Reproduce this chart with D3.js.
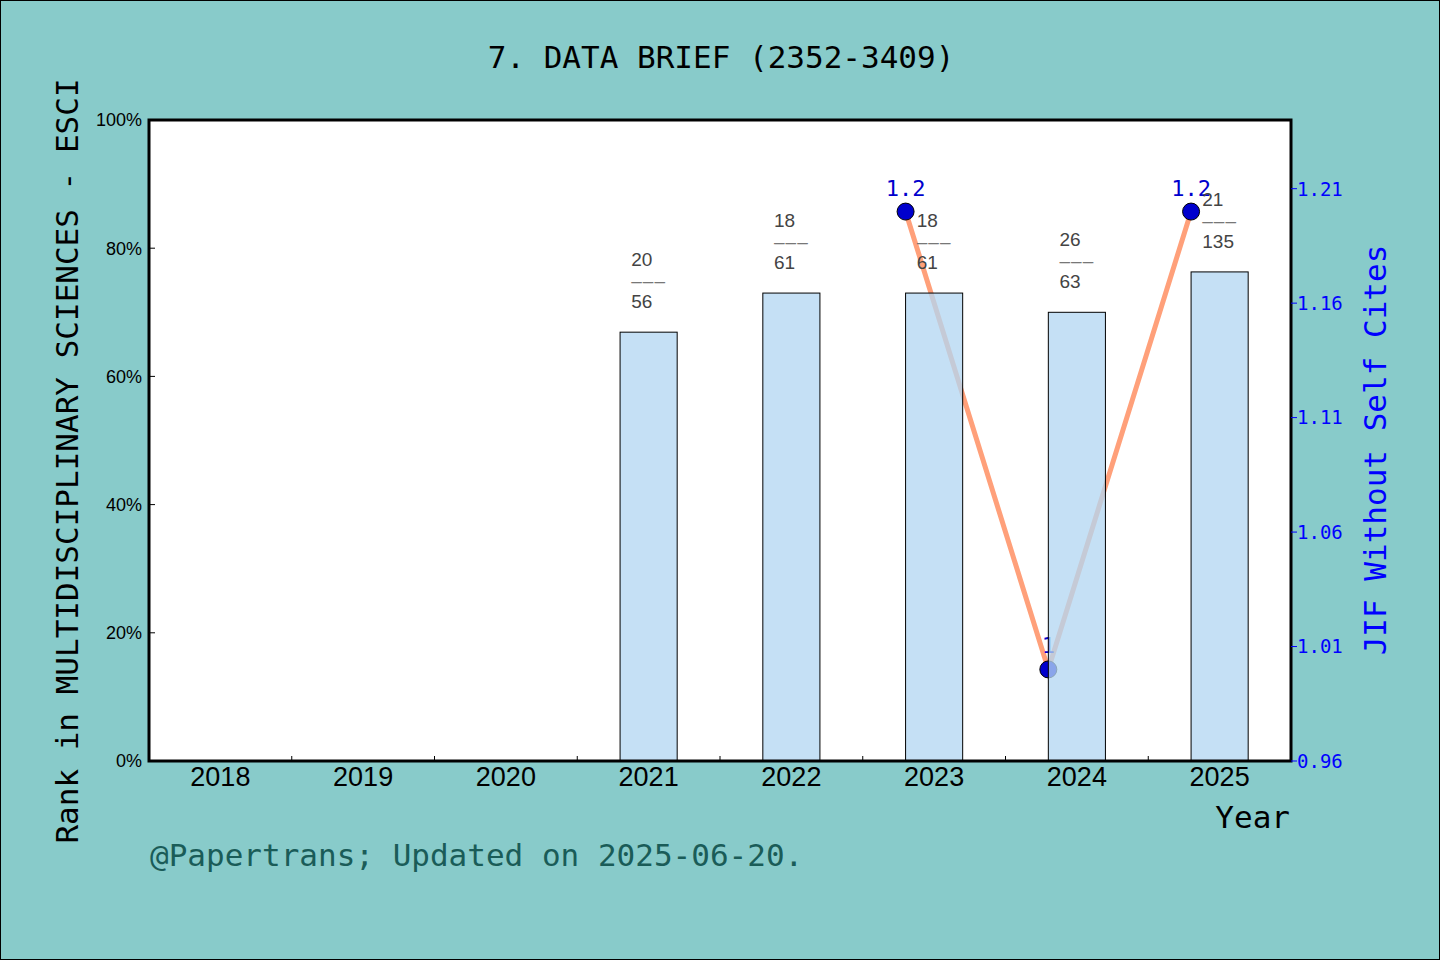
<!DOCTYPE html>
<html lang="en">
<head>
  <meta charset="UTF-8">
  <title>7. DATA BRIEF (2352-3409)</title>
  <script src="https://d3js.org/d3.v7.min.js"></script>
  <style>
    body { margin: 0; padding: 0; background: #88cbca; }
    svg { display: block; }
    .mono { font-family: "DejaVu Sans Mono", monospace; }
    .sans { font-family: "Liberation Sans", Arial, sans-serif; }
  </style>
</head>
<body>
  <div id="chart"></div>

  <script>
    // chart data
    const years = ["2018", "2019", "2020", "2021", "2022", "2023", "2024", "2025"];
    const rankPct = [null, null, null, 66.9, 73.0, 73.0, 70.0, 76.3];
    const rankTop = [null, null, null, "20", "18", "18", "26", "21"];
    const rankTotal = [null, null, null, "56", "61", "61", "63", "135"];
    const jifYears = ["2023", "2024", "2025"];
    const jifValues = [1.2, 1.0, 1.2];
    const pctTicks = [0, 20, 40, 60, 80, 100];
    const jifTicks = [0.96, 1.01, 1.06, 1.11, 1.16, 1.21];

    const width = 1440, height = 960;
    const plot = { left: 149, right: 1291, top: 120, bottom: 761 };

    const svg = d3.select("#chart").append("svg")
      .attr("width", width)
      .attr("height", height);

    // figure background
    svg.append("rect")
      .attr("width", width).attr("height", height)
      .attr("fill", "#88cbca")
      .attr("stroke", "#000").attr("stroke-width", 2);

    svg.append("rect")
      .attr("x", plot.left).attr("y", plot.top)
      .attr("width", plot.right - plot.left)
      .attr("height", plot.bottom - plot.top)
      .attr("fill", "#fff");

    // scales
    const x = d3.scaleBand().domain(years).range([plot.left, plot.right]).padding(0);
    const y = d3.scaleLinear().domain([0, 100]).range([plot.bottom, plot.top]);
    const yR = d3.scaleLinear().domain([0.96, 1.24]).range([plot.bottom, plot.top]);
    const cx = d => x(d) + x.bandwidth() / 2;
    const barW = x.bandwidth() * 0.4;
    // the JIF points sit on the left edge of each bar
    const px = d => cx(d) - barW / 2;

    // JIF line (drawn under the bars)
    const jif = jifYears.map((yr, i) => ({ year: yr, value: jifValues[i] }));
    svg.append("path")
      .datum(jif)
      .attr("fill", "none")
      .attr("stroke", "#ffa07a")
      .attr("stroke-width", 5)
      .attr("d", d3.line().x(d => px(d.year)).y(d => yR(d.value)));

    svg.selectAll(".pt")
      .data(jif)
      .join("circle")
      .attr("cx", d => px(d.year))
      .attr("cy", d => yR(d.value))
      .attr("r", 8.5)
      .attr("fill", "#0000cd")
      .attr("stroke", "#000")
      .attr("stroke-width", 1);

    svg.selectAll(".pt-label")
      .data(jif)
      .join("text")
      .attr("class", "mono")
      .attr("x", d => px(d.year))
      .attr("y", d => yR(d.value) - 16)
      .attr("text-anchor", "middle")
      .attr("font-size", 22)
      .attr("fill", "#0000cd")
      .text(d => String(d.value));

    // rank bars
    const bars = years.map((yr, i) => ({ year: yr, pct: rankPct[i], top: rankTop[i], total: rankTotal[i] }))
      .filter(d => d.pct != null);

    svg.selectAll(".bar")
      .data(bars)
      .join("rect")
      .attr("x", d => cx(d.year) - barW / 2)
      .attr("y", d => y(d.pct))
      .attr("width", barW)
      .attr("height", d => y(0) - y(d.pct))
      .attr("fill", "rgb(180,215,242)")
      .attr("fill-opacity", 0.77)
      .attr("stroke", "#000")
      .attr("stroke-width", 1);

    // rank labels: three left-aligned lines, block centred on the bar
    bars.forEach(d => {
      const g = svg.append("g").attr("class", "sans")
        .attr("font-size", 19).attr("fill", "#444");
      const lines = [d.top, "\u2013\u2013\u2013", d.total];
      const offs = [-66, -45, -24];
      const texts = lines.map((t, i) => g.append("text")
        .attr("y", y(d.pct) + offs[i])
        .text(t));
      texts[1].attr("fill", "#777").attr("letter-spacing", 1);
      const w = d3.max(texts, t => t.node().getComputedTextLength());
      texts.forEach(t => t.attr("x", cx(d.year) - w / 2));
    });

    // frame
    svg.append("rect")
      .attr("x", plot.left).attr("y", plot.top)
      .attr("width", plot.right - plot.left)
      .attr("height", plot.bottom - plot.top)
      .attr("fill", "none")
      .attr("stroke", "#000")
      .attr("stroke-width", 3);

    // x axis: labels under band centres, small inward ticks at band edges
    svg.selectAll(".xtick")
      .data(years.slice(1))
      .join("line")
      .attr("x1", d => x(d)).attr("x2", d => x(d))
      .attr("y1", plot.bottom).attr("y2", plot.bottom - 5)
      .attr("stroke", "#000").attr("stroke-width", 1);

    svg.selectAll(".xlabel")
      .data(years)
      .join("text")
      .attr("class", "sans")
      .attr("x", d => cx(d))
      .attr("y", 786)
      .attr("text-anchor", "middle")
      .attr("font-size", 27)
      .attr("fill", "#000")
      .text(d => d);

    // left axis
    svg.selectAll(".ytick")
      .data(pctTicks)
      .join("line")
      .attr("x1", plot.left).attr("x2", plot.left + 6)
      .attr("y1", d => y(d)).attr("y2", d => y(d))
      .attr("stroke", "#000");

    svg.selectAll(".ylabel")
      .data(pctTicks)
      .join("text")
      .attr("class", "sans")
      .attr("x", 142)
      .attr("y", d => y(d))
      .attr("dy", "0.35em")
      .attr("text-anchor", "end")
      .attr("font-size", 18)
      .attr("fill", "#000")
      .text(d => d + "%");

    // right axis
    svg.selectAll(".rtick")
      .data(jifTicks)
      .join("line")
      .attr("x1", plot.right).attr("x2", plot.right + 6)
      .attr("y1", d => yR(d)).attr("y2", d => yR(d))
      .attr("stroke", "#0000ff");

    svg.selectAll(".rlabel")
      .data(jifTicks)
      .join("text")
      .attr("class", "mono")
      .attr("x", 1297)
      .attr("y", d => yR(d))
      .attr("dy", "0.36em")
      .attr("font-size", 19)
      .attr("fill", "#0000ff")
      .text(d => d3.format(".2f")(d));

    // titles
    svg.append("text")
      .attr("class", "mono")
      .attr("x", 721).attr("y", 68)
      .attr("text-anchor", "middle")
      .attr("font-size", 31)
      .attr("fill", "#000")
      .text("7. DATA BRIEF (2352-3409)");

    svg.append("text")
      .attr("class", "mono")
      .attr("transform", "translate(78,461) rotate(-90)")
      .attr("text-anchor", "middle")
      .attr("font-size", 31)
      .attr("fill", "#000")
      .text("Rank in MULTIDISCIPLINARY SCIENCES - ESCI");

    svg.append("text")
      .attr("class", "mono")
      .attr("transform", "translate(1386,450) rotate(-90)")
      .attr("text-anchor", "middle")
      .attr("font-size", 31)
      .attr("fill", "#0000ff")
      .text("JIF Without Self Cites");

    svg.append("text")
      .attr("class", "mono")
      .attr("x", 1290).attr("y", 828)
      .attr("text-anchor", "end")
      .attr("font-size", 31)
      .attr("fill", "#000")
      .text("Year");

    svg.append("text")
      .attr("class", "mono")
      .attr("x", 150).attr("y", 866)
      .attr("font-size", 31)
      .attr("fill", "#1a5c58")
      .text("@Papertrans; Updated on 2025-06-20.");
  </script>
</body>
</html>
